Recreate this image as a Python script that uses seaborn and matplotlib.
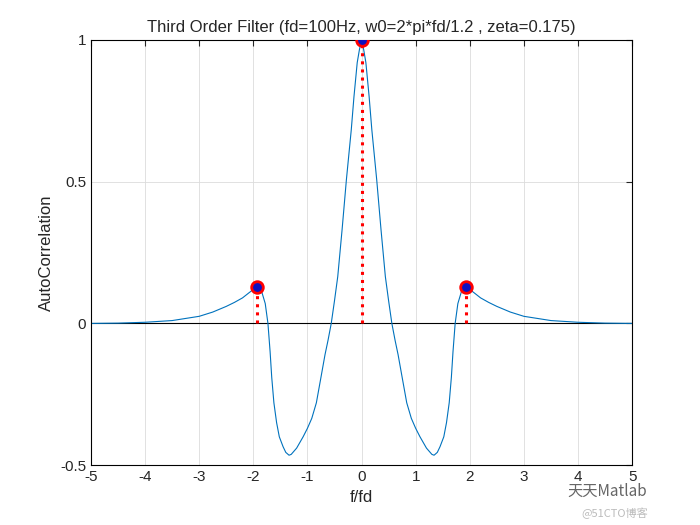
import matplotlib
matplotlib.use("Agg")
import matplotlib.pyplot as plt
import seaborn as sns
import pandas as pd

# right half of curve (symmetric)
x_half = [0.0, 0.04, 0.08, 0.14, 0.19, 0.28, 0.36, 0.44, 0.5, 0.56, 0.62, 0.675, 0.75, 0.835, 0.92, 1.0, 1.08, 1.2, 1.3, 1.34, 1.4, 1.45, 1.52, 1.57, 1.62, 1.66, 1.69, 1.73, 1.78, 1.85, 1.93, 2.0, 2.1, 2.2, 2.35, 2.5, 2.75, 3.0, 3.5, 4.0, 4.5, 5.0]
y_half = [1.0, 0.965, 0.92, 0.80, 0.683, 0.507, 0.33, 0.165, 0.08, 0.0, -0.06, -0.11, -0.19, -0.28, -0.335, -0.37, -0.40, -0.44, -0.462, -0.465, -0.455, -0.435, -0.40, -0.35, -0.28, -0.19, -0.10, 0.0, 0.07, 0.115, 0.128, 0.12, 0.105, 0.09, 0.074, 0.06, 0.04, 0.025, 0.01, 0.004, 0.001, 0.0]
peak_x = [-1.93, 0.0, 1.93]
peak_y = [0.128, 1.0, 0.128]

xs = [-v for v in x_half[::-1]] + x_half[1:]
ys = y_half[::-1] + y_half[1:]
df = pd.DataFrame({"x": xs, "y": ys})

sns.set_style("white")
plt.rcParams['font.family'] = ['Liberation Sans', 'DejaVu Sans', 'Noto Sans CJK SC']
plt.rcParams['axes.unicode_minus'] = False
fig = plt.figure(figsize=(7, 5.25), dpi=100)
ax = fig.add_axes([0.13, 0.114, 0.773, 0.81])

ax.axhline(0, color="black", lw=0.8, zorder=1)
sns.lineplot(data=df, x="x", y="y", ax=ax, color="#0072BD", lw=0.8, zorder=2)
for px, py in zip(peak_x, peak_y):
    ax.plot([px, px], [0, py], color="red", ls=":", lw=2.2, zorder=3)
ax.scatter(peak_x, peak_y, s=70, facecolor="#1010c0", edgecolor="red", linewidth=2, zorder=4)

ax.set_xlim(-5, 5)
ax.set_ylim(-0.5, 1)
ax.set_xticks(range(-5, 6))
ax.set_yticks([-0.5, 0, 0.5, 1])
ax.set_yticklabels(["-0.5", "0", "0.5", "1"])
ax.grid(True, color="#dcdcdc", lw=0.6)
ax.tick_params(direction="in", top=True, right=True, length=4, labelsize=11, colors="#262626")
for s in ax.spines.values():
    s.set_color("black"); s.set_linewidth(0.8)
ax.set_xlabel("f/fd", fontsize=12)
ax.set_ylabel("AutoCorrelation", fontsize=12)
ax.set_title("Third Order Filter (fd=100Hz, w0=2*pi*fd/1.2 , zeta=0.175)", fontsize=12)
fig.text(0.81, 0.055, "天天Matlab", fontsize=11, color="#666666", family=['Noto Sans CJK SC'])
fig.text(0.83, 0.015, "@51CTO博客", fontsize=8, color="#bbbbbb", family=['Noto Sans CJK SC'])
fig.savefig("out.png", dpi=100)
